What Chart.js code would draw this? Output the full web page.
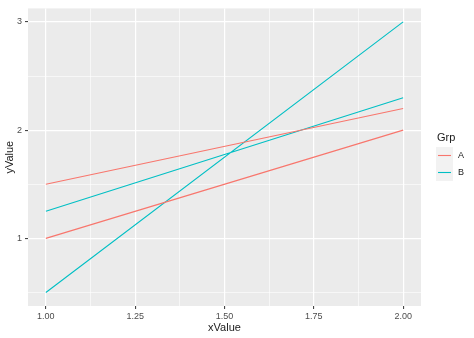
<!DOCTYPE html>
<html>
<head>
<meta charset="utf-8">
<script src="https://cdn.jsdelivr.net/npm/chart.js@4/dist/chart.umd.min.js"></script>
<style>
  body { margin: 0; background: #fff; }
  #wrap { width: 474px; height: 338px; }
</style>
</head>
<body>
<div id="wrap"><canvas id="myChart" width="474" height="338"></canvas></div>
<script>
// values
var xValues = [1, 2];
var grpNames = ['A', 'B'];
var a_line1 = [1.5, 2.2];
var a_line2 = [1.0, 2.0];
var b_line1 = [1.25, 2.3];
var b_line2 = [0.5, 3.0];
var xTicks = [1, 1.125, 1.25, 1.375, 1.5, 1.625, 1.75, 1.875, 2];
var xMajor = [1, 1.25, 1.5, 1.75, 2];
var yTicks = [0.5, 1, 1.5, 2, 2.5, 3];
var yMajor = [1, 2, 3];
var grpColors = ['#F8766D', '#00BFC4'];

// two lines per group, broken by a null point
function twoLines (l1, l2) {
    var pts = [];
    xValues.forEach(function (x, i) { pts.push({x: x, y: l1[i]}); });
    pts.push({x: 1.5, y: null});
    xValues.forEach(function (x, i) { pts.push({x: x, y: l2[i]}); });
    return pts;
}

function isMajor (list, v) {
    return list.some(function (m) { return Math.abs(m - v) < 1e-9; });
}

var panelBg = {
    id: 'panelBg',
    beforeDraw: function (chart) {
        var a = chart.chartArea, ctx = chart.ctx;
        ctx.save();
        ctx.fillStyle = '#EBEBEB';
        ctx.fillRect(a.left, a.top, a.right - a.left, a.bottom - a.top);
        ctx.restore();
    }
};

// ggplot style legend on the right
var grpLegend = {
    id: 'grpLegend',
    afterDraw: function (chart) {
        var ctx = chart.ctx;
        var x0 = chart.chartArea.right + 15;
        ctx.save();
        ctx.fillStyle = '#1A1A1A';
        ctx.font = '11px "Liberation Sans", Arial, sans-serif';
        ctx.textBaseline = 'middle';
        ctx.textAlign = 'left';
        ctx.fillText('Grp', x0 + 1, 138);
        chart.data.datasets.forEach(function (ds, i) {
            var top = 147 + i * 17;
            ctx.fillStyle = '#F2F2F2';
            ctx.fillRect(x0, top, 17, 17);
            ctx.strokeStyle = ds.borderColor;
            ctx.lineWidth = 1.1;
            ctx.beginPath();
            ctx.moveTo(x0 + 2, top + 8.5);
            ctx.lineTo(x0 + 15, top + 8.5);
            ctx.stroke();
            ctx.fillStyle = '#1A1A1A';
            ctx.font = '9px "Liberation Sans", Arial, sans-serif';
            ctx.fillText(ds.label, x0 + 22, top + 9);
        });
        ctx.restore();
    }
};

var ctx = document.getElementById('myChart').getContext('2d');
var myChart = new Chart(ctx, {
    type: 'line',
    data: {
        datasets: [{
            label: grpNames[0],
            data: twoLines(a_line1, a_line2),
            borderColor: grpColors[0],
            borderWidth: 1.1,
            pointRadius: 0,
            spanGaps: false
        },
        {
            label: grpNames[1],
            data: twoLines(b_line1, b_line2),
            borderColor: grpColors[1],
            borderWidth: 1.1,
            pointRadius: 0,
            spanGaps: false
        }]
    },
    options: {
        responsive: false,
        animation: false,
        layout: { padding: { top: 5, right: 53, left: 0, bottom: 0 } },
        plugins: {
            legend: { display: false },
            tooltip: { enabled: false }
        },
        scales: {
            x: {
                type: 'linear',
                min: 0.95,
                max: 2.05,
                border: { display: false },
                afterBuildTicks: function (scale) {
                    scale.ticks = xTicks.map(function (v) { return {value: v}; });
                },
                afterFit: function (scale) { scale.height = 32; },
                grid: {
                    color: '#FFFFFF',
                    lineWidth: function (c) { return isMajor(xMajor, c.tick.value) ? 1.2 : 0.6; },
                    tickColor: function (c) { return isMajor(xMajor, c.tick.value) ? '#333333' : 'rgba(0,0,0,0)'; },
                    tickLength: 3,
                    tickWidth: 1
                },
                ticks: {
                    autoSkip: false,
                    maxRotation: 0,
                    padding: 2,
                    color: '#4D4D4D',
                    font: { family: '"Liberation Sans", Arial, sans-serif', size: 9 },
                    callback: function (v) { return isMajor(xMajor, v) ? v.toFixed(2) : ''; }
                },
                title: {
                    display: true,
                    text: 'xValue',
                    color: '#1A1A1A',
                    font: { family: '"Liberation Sans", Arial, sans-serif', size: 11 },
                    padding: { top: 0, bottom: 3 }
                }
            },
            y: {
                type: 'linear',
                min: 0.375,
                max: 3.125,
                border: { display: false },
                afterBuildTicks: function (scale) {
                    scale.ticks = yTicks.map(function (v) { return {value: v}; });
                },
                afterFit: function (scale) { scale.width = 28; },
                grid: {
                    color: '#FFFFFF',
                    lineWidth: function (c) { return isMajor(yMajor, c.tick.value) ? 1.2 : 0.6; },
                    tickColor: function (c) { return isMajor(yMajor, c.tick.value) ? '#333333' : 'rgba(0,0,0,0)'; },
                    tickLength: 3,
                    tickWidth: 1
                },
                ticks: {
                    autoSkip: false,
                    padding: 3,
                    color: '#4D4D4D',
                    font: { family: '"Liberation Sans", Arial, sans-serif', size: 9 },
                    callback: function (v) { return isMajor(yMajor, v) ? String(v) : ''; }
                },
                title: {
                    display: true,
                    text: 'yValue',
                    color: '#1A1A1A',
                    font: { family: '"Liberation Sans", Arial, sans-serif', size: 11 },
                    padding: { top: 3, bottom: 0 }
                }
            }
        }
    },
    plugins: [panelBg, grpLegend]
});
</script>
</body>
</html>
